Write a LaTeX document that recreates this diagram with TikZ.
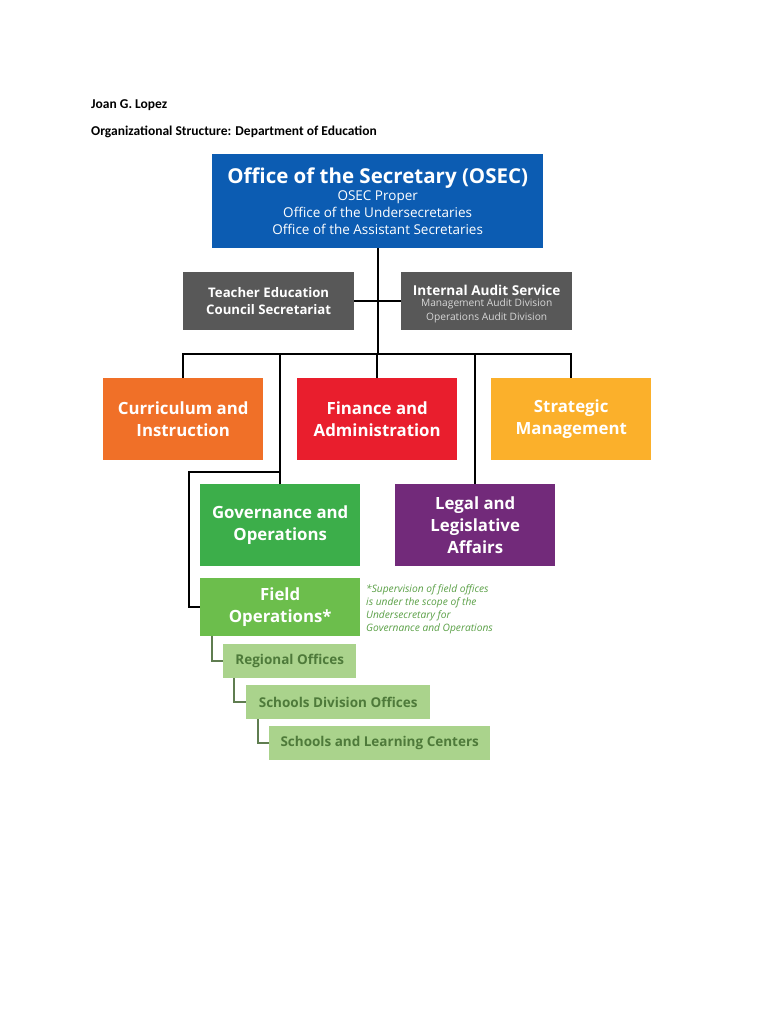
\documentclass[tikz,border=0pt]{standalone}
\usepackage{fontspec}
\setmainfont{Open Sans}
\newfontfamily\hdrfont{Carlito}
\definecolor{cosec}{RGB}{12,92,178}
\definecolor{cgray}{RGB}{88,88,88}
\definecolor{cgraytxt}{RGB}{215,215,215}
\definecolor{corange}{RGB}{240,112,40}
\definecolor{cred}{RGB}{233,30,45}
\definecolor{cyellow}{RGB}{251,176,43}
\definecolor{cgov}{RGB}{60,174,74}
\definecolor{cpurple}{RGB}{114,42,122}
\definecolor{cfield}{RGB}{108,190,76}
\definecolor{clight}{RGB}{170,211,140}
\definecolor{clighttxt}{RGB}{78,122,58}
\definecolor{cnote}{RGB}{90,160,70}
\definecolor{clightline}{RGB}{95,125,80}
\begin{document}
\begin{tikzpicture}[x=1pt,y=-1pt,
  box/.style={anchor=north west, inner sep=0pt, align=center, text=white, font=\bfseries},
  bigbox/.style={box, minimum width=160pt, minimum height=82pt, font=\bfseries\fontsize{16.8}{22}\selectfont},
  graybox/.style={box, fill=cgray, minimum width=171pt, minimum height=58pt},
  lightbox/.style={box, fill=clight, text=clighttxt, minimum height=34pt, font=\bfseries\fontsize{13.5}{16}\selectfont},
  conn/.style={draw=black, line width=2pt},
  lconn/.style={draw=clightline, line width=1.6pt},
  hdr/.style={anchor=base west, inner sep=0pt, font=\hdrfont\bfseries\fontsize{13.5}{16}\selectfont}
]
\useasboundingbox (0,0) rectangle (768,1024);
\fill[white] (0,0) rectangle (768,1024);

\node[hdr] (name) at (91,109) {Joan G. Lopez};
\node[hdr] (title) at (91,136) {Organizational Structure: Department of Education};

\node[box, fill=cosec, minimum width=331pt, minimum height=94pt] (osec) at (212,154) {};
\node[anchor=north, inner sep=0pt, text=white, font=\bfseries\fontsize{20.5}{24}\selectfont] (osect) at ([yshift=-14pt]osec.north) {Office of the Secretary (OSEC)};
\node[anchor=north, inner sep=0pt, align=center, text=white, font=\fontsize{13.5}{17}\selectfont] (osecs) at ([yshift=-37pt]osec.north) {OSEC Proper\\Office of the Undersecretaries\\Office of the Assistant Secretaries};

\node[graybox, font=\bfseries\fontsize{13.2}{17}\selectfont] (tec) at (183,272) {Teacher Education\\Council Secretariat};
\node[graybox] (ias) at (401,272) {};
\node[anchor=north, inner sep=0pt, align=center, text=white, font=\bfseries\fontsize{13.6}{15}\selectfont] (iast) at ([yshift=-13pt]ias.north) {Internal Audit Service};
\node[anchor=north, inner sep=0pt, align=center, text=cgraytxt, font=\fontsize{10.2}{13.5}\selectfont] (iass) at ([yshift=-27pt]ias.north) {Management Audit Division\\Operations Audit Division};

\node[bigbox, fill=corange] (cur) at (103,378) {Curriculum and\\Instruction};
\node[bigbox, fill=cred] (fin) at (297,378) {Finance and\\Administration};
\node[bigbox, fill=cyellow] (str) at (491,378) {Strategic\\Management};
\node[bigbox, fill=cgov] (gov) at (200,484) {Governance and\\Operations};
\node[bigbox, fill=cpurple] (leg) at (395,484) {Legal and\\Legislative\\Affairs};
\node[bigbox, fill=cfield, minimum height=58pt] (fld) at (200,578) {Field\\Operations*};

\node[anchor=north west, inner sep=0pt, align=left, text=cnote, font=\itshape\fontsize{10.2}{13.1}\selectfont] (note) at (366,584) {*Supervision of field offices\\is under the scope of the\\Undersecretary for\\Governance and Operations};

\node[lightbox, minimum width=133pt] (reg) at (223,644) {Regional Offices};
\node[lightbox, minimum width=184pt] (sdo) at (246,685) {Schools Division Offices};
\node[lightbox, minimum width=221pt] (slc) at (269,726) {Schools and Learning Centers};

\coordinate (busy) at (377,354);
\coordinate (brk) at (189,472);

\draw[conn] (osec.south) -- (osec.south |- busy);
\draw[conn] (tec.east) -- (ias.west);
\draw[conn] (cur.north) -- (cur.north |- busy) -- (str.north |- busy) -- (str.north);
\draw[conn] (fin.north) -- (fin.north |- busy);
\draw[conn] (gov.north) -- (gov.north |- busy);
\draw[conn] (leg.north) -- (leg.north |- busy);
\draw[conn] (gov.north |- brk) -- (brk) |- (fld.west);

\draw[lconn] ([xshift=12pt]fld.south west) |- (reg.west);
\draw[lconn] ([xshift=11pt]reg.south west) |- (sdo.west);
\draw[lconn] ([xshift=12pt]sdo.south west) |- (slc.west);
\end{tikzpicture}
\end{document}
